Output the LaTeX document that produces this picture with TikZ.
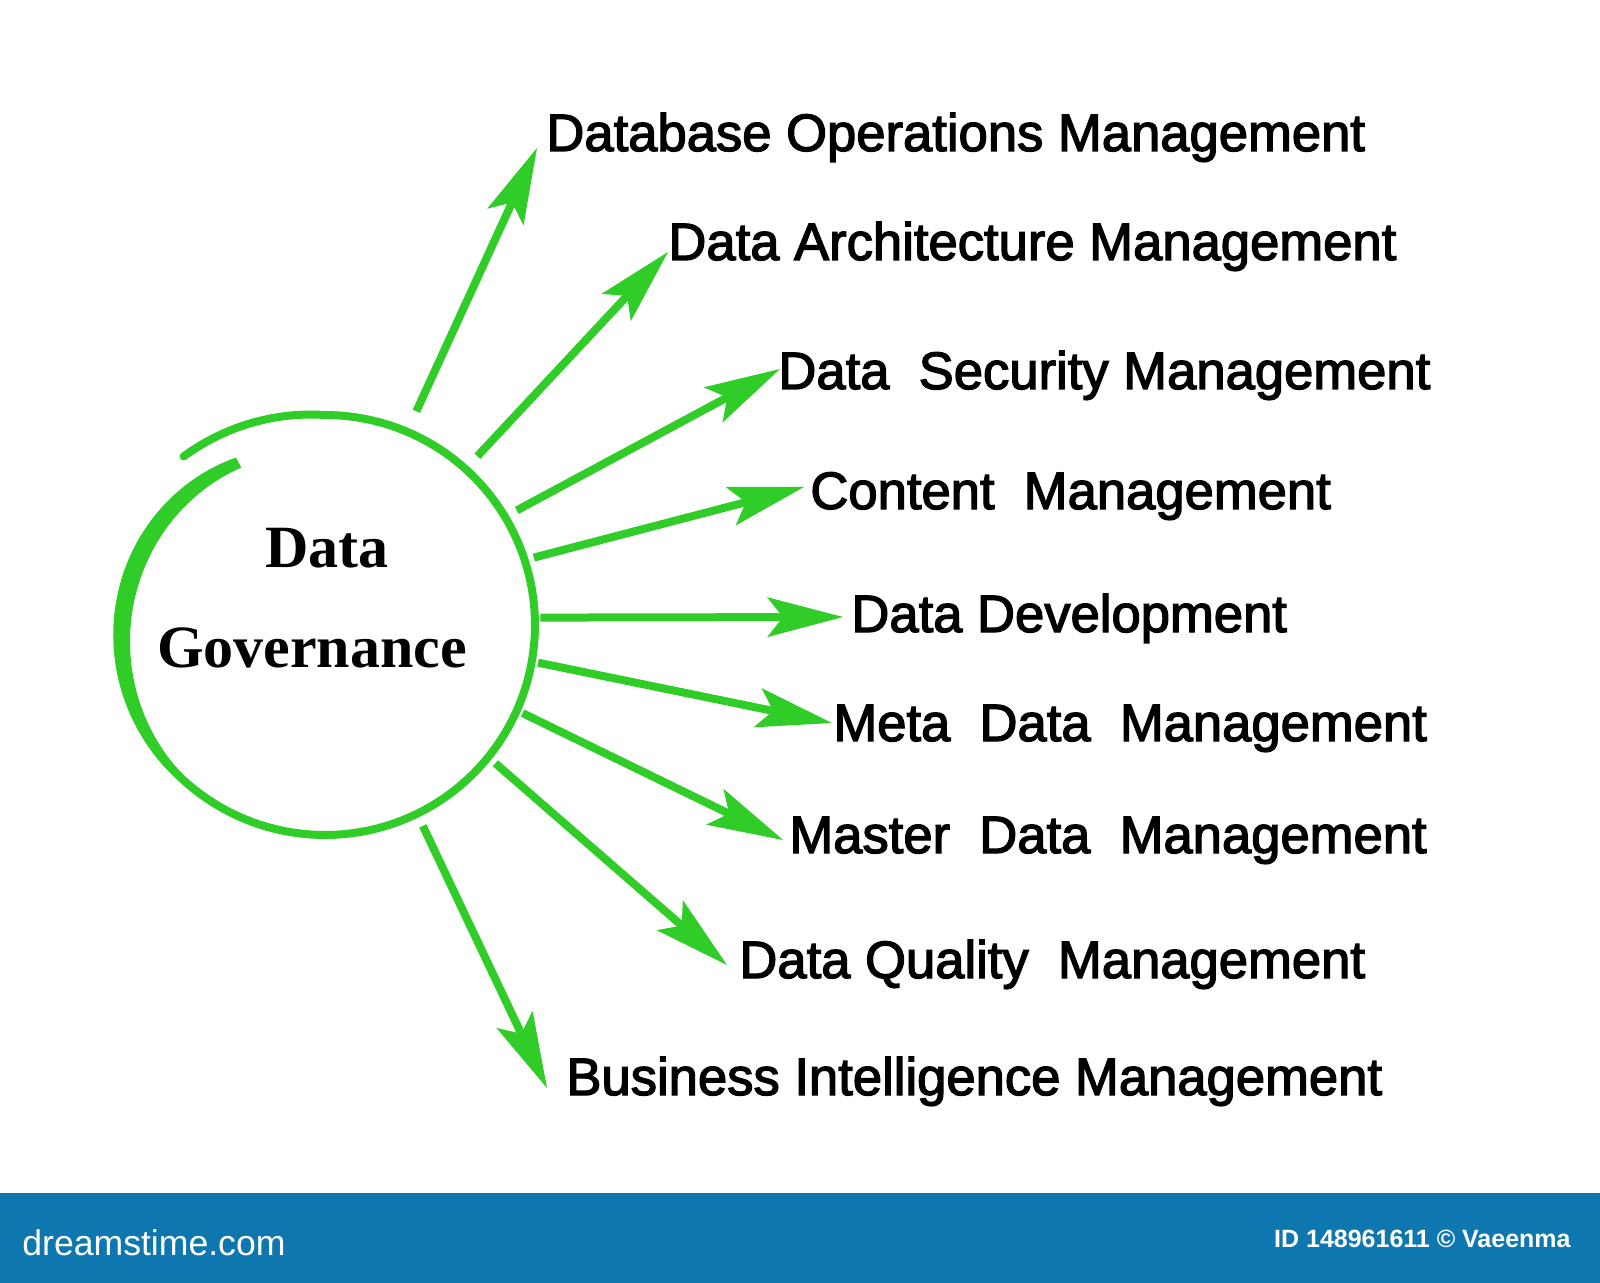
\documentclass[tikz,border=0pt]{standalone}
\usepackage{fontspec}
\setmainfont{Liberation Sans}
\newfontfamily\areafont[FakeBold=2.5]{Liberation Sans}
\newfontfamily\dgfont{Liberation Serif}
\usetikzlibrary{arrows.meta, calc, positioning}
\definecolor{dggreen}{RGB}{48,204,40}
\definecolor{dsblue}{RGB}{14,119,176}

\begin{document}
\begin{tikzpicture}[x=0.5pt, y=-0.5pt,
    area/.style={anchor=base west, inner sep=0pt, font=\areafont\fontsize{26.3pt}{30pt}\selectfont},
    title/.style={anchor=base, inner sep=0pt, font=\dgfont\bfseries\fontsize{30pt}{36pt}\selectfont},
    arr/.style={draw=dggreen, line width=4pt, -{Stealth[length=38pt, width=20pt, inset=8pt, line width=0pt]}}]

      \fill[white] (0,0) rectangle (1600,1283);
      \useasboundingbox (0,0) rectangle (1600,1283);

      \node[circle, minimum size=212pt, inner sep=0pt] (dg) at (325,625) {};
      \draw[dggreen, line width=4pt, line cap=round, domain=130:-145, samples=120]
        plot ({325+(210+max(0,\x-90)*0.25)*cos(\x)}, {625-(210+max(0,\x-90)*0.25)*sin(\x)});
      \fill[dggreen]
        plot[domain=-135:-242, samples=90] ({325+(210-26*((-135-\x)/107)*sqrt((-135-\x)/107)+4+5*sin((-135-\x)/107*160))*cos(\x)},
                                            {625-(210-26*((-135-\x)/107)*sqrt((-135-\x)/107)+4+5*sin((-135-\x)/107*160))*sin(\x)})
        -- plot[domain=-242:-135, samples=90] ({325+(210-26*((-135-\x)/107)*sqrt((-135-\x)/107)-4-5*sin((-135-\x)/107*160))*cos(\x)},
                                               {625-(210-26*((-135-\x)/107)*sqrt((-135-\x)/107)-4-5*sin((-135-\x)/107*160))*sin(\x)})
        -- cycle;

      \node[title] (dgdata) at (327,567) {Data};
      \node[title] (dggov) at (312,667) {Governance};

      \node[area] (dbops) at (546,151) {Database Operations Management};
      \node[area] (arch) at (668,260) {Data Architecture Management};
      \node[area] (secur) at (778,389) {Data\ \ Security Management};
      \node[area] (content) at (810,509) {Content\ \ Management};
      \node[area] (devel) at (851,632) {Data Development};
      \node[area] (meta) at (833,741) {Meta\ \ Data\ \ Management};
      \node[area] (master) at (789,853) {Master\ \ Data\ \ Management};
      \node[area] (quality) at (739,978) {Data Quality\ \ Management};
      \node[area] (bi) at (566,1095) {Business Intelligence Management};

      \draw[arr, shorten <=10pt] (dg.67) -- ($(dbops.base west)+(-9,-3)$);
      \draw[arr, shorten <=7.5pt] (dg.48) -- ($(arch.base west)+(0,-8)$);
      \draw[arr, shorten <=5.5pt] (dg.31) -- ($(secur.base west)+(2,-20)$);
      \draw[arr, shorten <=3.5pt] (dg.18) -- ($(content.base west)+(-6,-22)$);
      \draw[arr, shorten <=1.5pt] (dg.2) -- ($(devel.base west)+(-8,-15)$);
      \draw[arr, shorten <=2pt] (dg.-10) -- ($(meta.base west)+(-1,-18)$);
      \draw[arr, shorten <=2pt] (dg.-24) -- ($(master.base west)+(-6,-13)$);
      \draw[arr, shorten <=3.5pt] (dg.-39) -- ($(quality.base west)+(-12,-13)$);
      \draw[arr, shorten <=5.5pt] (dg.-64) -- ($(bi.base west)+(-19,-7)$);

      \fill[dsblue] (0,1193) rectangle (1600,1283);
      \node[anchor=base west, inner sep=0pt, text=white, font=\fontsize{17.8pt}{20pt}\selectfont] (site) at (22,1255) {dreamstime.com};
      \node[anchor=base east, inner sep=0pt, text=white, font=\bfseries\fontsize{12.5pt}{15pt}\selectfont] (imgid) at (1571,1247) {ID 148961611 © Vaeenma};

    \end{tikzpicture}
\end{document}
